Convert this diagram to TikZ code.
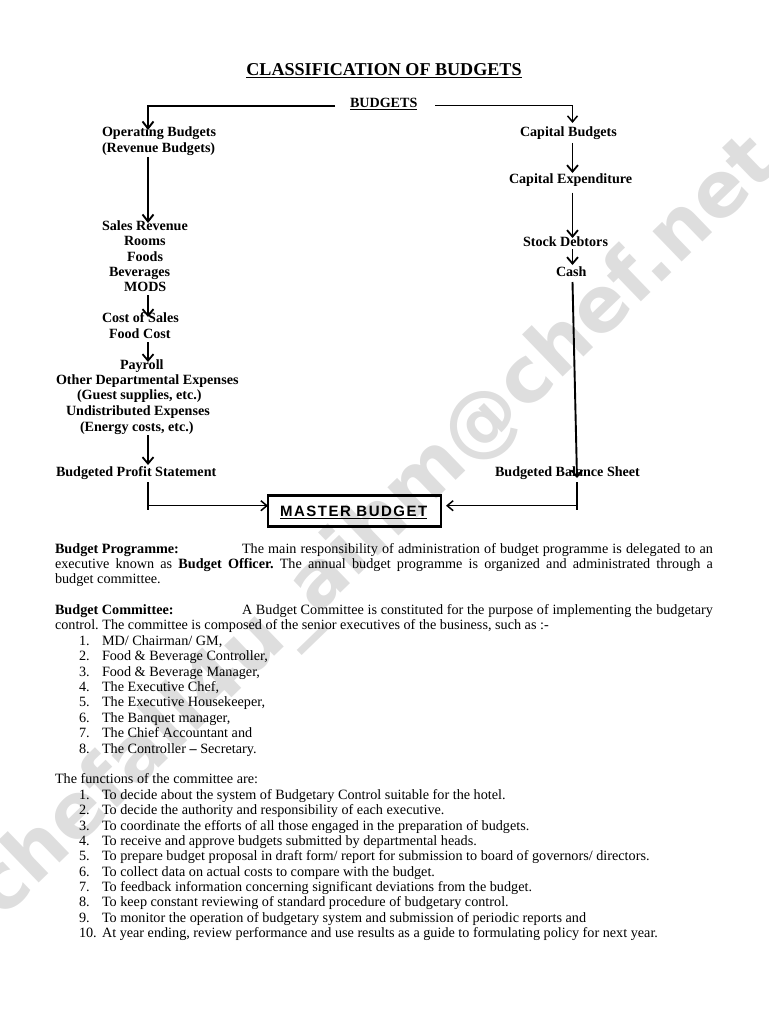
\documentclass[tikz,border=0pt]{standalone}
\usepackage{fontspec}
\setmainfont{Liberation Serif}
\newfontfamily\masterfont[LetterSpace=10]{Liberation Sans}
\newfontfamily\wmfont{DejaVu Sans}
\usetikzlibrary{arrows.meta}
\definecolor{wm}{gray}{0.87}
\frenchspacing
\tikzset{
  x=1pt,y=-1pt,
  every node/.style={inner sep=0pt,outer sep=0pt,anchor=base west,text=black},
  lab/.style={font=\fontsize{14.1}{15}\selectfont\bfseries,text height=10pt,text depth=3pt},
  body/.style={font=\fontsize{14.2}{15}\selectfont},
  heavy/.style={line width=1.9pt,-{Straight Barb[length=7pt,width=11pt,line width=1.9pt]}},
  arr/.style={line width=1.9pt,-{Straight Barb[length=6.5pt,width=11pt,line width=1.8pt]}},
  thin arr/.style={line width=1.3pt,-{Straight Barb[length=6pt,width=10pt,line width=1.5pt]}},
  plain/.style={line width=1.3pt},
}
\begin{document}
\begin{tikzpicture}
\useasboundingbox (0,0) rectangle (768,1024);
\clip (0,0) rectangle (768,1024);
% watermark
\node[anchor=west,rotate=44,text=wm,font=\fontsize{77}{77}\selectfont\bfseries\wmfont] (wmark) at (-12,905) {chefall4u\_aihm@chef.net};
% title
\node[anchor=base,font=\fontsize{18.1}{20}\selectfont\bfseries] (title) at (384,75.5) {\underline{CLASSIFICATION OF BUDGETS}};
\node[lab] (budgets) at (350,107.5) {\underline{BUDGETS}};
% left column
\node[lab] (op) at (102,137) {Operating Budgets};
\node[lab] (rev) at (102,153) {(Revenue Budgets)};
\node[lab] (sales) at (102,230) {Sales Revenue};
\node[lab] (rooms) at (124,245.5) {Rooms};
\node[lab] (foods) at (127,261) {Foods};
\node[lab] (bev) at (109,276) {Beverages};
\node[lab] (mods) at (124,291) {MODS};
\node[lab] (cos) at (102,322) {Cost of Sales};
\node[lab] (food) at (109,338) {Food Cost};
\node[lab] (pay) at (120,369) {Payroll};
\node[lab] (other) at (56,384) {Other Departmental Expenses};
\node[lab] (guest) at (77,399.5) {(Guest supplies, etc.)};
\node[lab] (undist) at (66,415) {Undistributed Expenses};
\node[lab] (energy) at (80,431) {(Energy costs, etc.)};
\node[lab] (bps) at (56,476) {Budgeted Profit Statement};
% right column
\node[lab] (cap) at (520,137) {Capital Budgets};
\node[lab] (capx) at (509,184) {Capital Expenditure};
\node[lab] (stock) at (523,246) {Stock Debtors};
\node[lab] (cash) at (556,276) {Cash};
\node[lab] (bbs) at (495,476) {Budgeted Balance Sheet};
% master
\node[draw,line width=2.6pt,anchor=center,minimum width=173pt,minimum height=31pt] (master) at (354.5,511) {};
\node[font=\fontsize{15}{16}\selectfont\bfseries\masterfont] (mastertext) at (280,516.7) {\underline{MASTER BUDGET}};
% guides
\coordinate (xl) at (148,0);
\coordinate (xr) at (572.5,0);
\coordinate (xb) at (577,0);
\coordinate (yb) at (0,505.7);
% connectors
\draw[heavy] ([shift={(-15pt,-1.8pt)}]budgets.west) -| ([yshift=-3pt]op.north -| xl);
\draw[heavy] ([yshift=-1pt]rev.south -| xl) -- ([yshift=-3pt]sales.north -| xl);
\draw[arr] ([yshift=-1pt]mods.south -| xl) -- ([yshift=-5pt]cos.north -| xl);
\draw[arr] ([yshift=-1pt]food.south -| xl) -- ([yshift=-3pt]pay.north -| xl);
\draw[arr] ([yshift=-1pt]energy.south -| xl) -- ([yshift=1pt]bps.north -| xl);
\draw[plain] ([yshift=-3pt]bps.south -| xl) -- ([yshift=-31pt]bps.south -| xl);
\draw[thin arr] (yb -| xl) -- (yb -| master.west);
\draw[thin arr] ([shift={(18pt,-1.8pt)}]budgets.east) -| ([yshift=4pt]cap.north -| xr);
\draw[arr] ([yshift=-3pt]cap.south -| xr) -- ([yshift=1pt]capx.north -| xr);
\draw[arr] ([yshift=-5.7pt]capx.south -| xr) -- ([yshift=-2pt]stock.north -| xr);
\draw[arr] (stock.south -| xr) -- ([yshift=1pt]cash.north -| xr);
\draw[arr] ([yshift=-3pt]cash.south -| xr) -- ([yshift=1pt]bbs.south -| xb);
\draw[plain] ([yshift=-3pt]bbs.south -| xb) -- ([yshift=-31pt]bbs.south -| xb);
\draw[thin arr] (yb -| xb) -- ([xshift=5pt]yb -| master.east);
% paragraphs
\node[body] (p1a) at (55,553) {\textbf{Budget Programme:}};
\node[body] (p1b) at (242,553) {\makebox[471pt][s]{The main responsibility of administration of budget programme is delegated to an}};
\node[body] (p1c) at (55,568) {\makebox[658pt][s]{executive known as \textbf{Budget Officer.} The annual budget programme is organized and administrated through a}};
\node[body] (p1d) at (55,583.5) {budget committee.};
\node[body] (p2a) at (55,614) {\textbf{Budget Committee:}};
\node[body] (p2b) at (242,614) {\makebox[471pt][s]{A Budget Committee is constituted for the purpose of implementing the budgetary}};
\node[body] (p2c) at (55,629.5) {control. The committee is composed of the senior executives of the business, such as :-};
\foreach \i/\yy/\t in {
 1/645.5/MD\slash{} Chairman\slash{} GM{,},
 2/660.7/Food \& Beverage Controller{,},
 3/676/Food \& Beverage Manager{,},
 4/691.2/The Executive Chef{,},
 5/706.7/The Executive Housekeeper{,},
 6/722/The Banquet manager{,},
 7/737.7/The Chief Accountant and,
 8/753/The Controller \textbf{--} Secretary.}{
  \node[body] (an\i) at (79,\yy) {\i.};
  \node[body] (at\i) at (102,\yy) {\t};
}
\node[body] (fn) at (55,783.3) {The functions of the committee are:};
\foreach \i/\yy/\t in {
 1/799/To decide about the system of Budgetary Control suitable for the hotel.,
 2/814.3/To decide the authority and responsibility of each executive.,
 3/830/To coordinate the efforts of all those engaged in the preparation of budgets.,
 4/845.3/To receive and approve budgets submitted by departmental heads.,
 5/860.6/To prepare budget proposal in draft form\slash{} report for submission to board of governors\slash{} directors.,
 6/876/To collect data on actual costs to compare with the budget.,
 7/891.3/To feedback information concerning significant deviations from the budget.,
 8/906.6/To keep constant reviewing of standard procedure of budgetary control.,
 9/922/To monitor the operation of budgetary system and submission of periodic reports and,
 10/937.3/At year ending{,} review performance and use results as a guide to formulating policy for next year.}{
  \node[body] (bn\i) at (79,\yy) {\i.};
  \node[body] (bt\i) at (102,\yy) {\t};
}
\end{tikzpicture}
\end{document}
